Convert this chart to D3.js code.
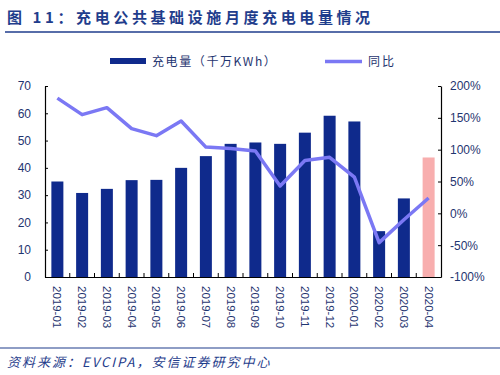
<!DOCTYPE html>
<html>
<meta charset="utf-8">
<style>
  body { margin: 0; background: #fff; }
  text { font-family: "Liberation Sans", Arial, sans-serif; }
  .cjk { font-family: "Noto Sans CJK SC", sans-serif; }
</style>
<body>
<script src="https://d3js.org/d3.v7.min.js"></script>
<script>
// data
var months = ["2019-01","2019-02","2019-03","2019-04","2019-05","2019-06","2019-07","2019-08",
              "2019-09","2019-10","2019-11","2019-12","2020-01","2020-02","2020-03","2020-04"];
var charge = [35, 30.8, 32.3, 35.5, 35.6, 40, 44.3, 48.8, 49.3, 48.8, 52.9, 59.1, 57, 16.8, 28.8, 43.8];
var yoy = [1.81, 1.55, 1.66, 1.33, 1.22, 1.45, 1.04, 1.02, 0.98, 0.43, 0.83, 0.88, 0.57, -0.46, -0.10, 0.24];
var leftTicks = [0, 10, 20, 30, 40, 50, 60, 70];
var rightTicks = [-1, -0.5, 0, 0.5, 1, 1.5, 2];

var navy = "#0f2a8c", pink = "#f8aeae", lineCol = "#7b78f4", txt = "#1f3570";

var svg = d3.select("body").append("svg")
    .attr("width", 500)
    .attr("height", 375);

// title
svg.append("text")
  .attr("class", "cjk")
  .attr("x", 7).attr("y", 23)
  .style("font-size", "15px").style("font-weight", "bold")
  .style("letter-spacing", "3.6px")
  .attr("fill", "#1f3d8c")
  .text("图 11：充电公共基础设施月度充电电量情况");
svg.append("line")
  .attr("x1", 5).attr("x2", 500).attr("y1", 32).attr("y2", 32)
  .attr("stroke", "#1f3d8c").attr("stroke-width", 1.5);

// scales
var xb = d3.scaleBand().domain(months).range([45, 441]);
var yL = d3.scaleLinear().domain([0, 70]).range([277, 86]);
var yR = d3.scaleLinear().domain([-1, 2]).range([277, 86]);

// bars
svg.selectAll("rect.bar")
  .data(charge)
  .enter()
  .append("rect")
  .attr("class", "bar")
  .attr("x", function(d, i) { return xb(months[i]) + xb.bandwidth() / 2 - 6; })
  .attr("width", 12)
  .attr("y", function(d) { return yL(d); })
  .attr("height", function(d) { return yL(0) - yL(d); })
  .attr("fill", function(d, i) { return i == months.length - 1 ? pink : navy; });

// line
var line = d3.line()
  .x(function(d, i) { return xb(months[i]) + xb.bandwidth() / 2; })
  .y(function(d) { return yR(d); });
svg.append("path")
  .datum(yoy)
  .attr("d", line)
  .attr("fill", "none")
  .attr("stroke", lineCol)
  .attr("stroke-width", 3.5)
  .attr("stroke-linejoin", "round");

// left axis
var leftAxis = d3.axisLeft(yL).tickValues(leftTicks).tickSizeInner(-3).tickSizeOuter(0).tickPadding(14);
var gl = svg.append("g").attr("transform", "translate(45,0)").call(leftAxis);
// right axis
var rightAxis = d3.axisRight(yR).tickValues(rightTicks).tickSizeInner(-3).tickSizeOuter(0).tickPadding(9)
  .tickFormat(function(d) { return Math.round(d * 100) + "%"; });
var gr = svg.append("g").attr("transform", "translate(441,0)").call(rightAxis);
// bottom axis
var xAxis = d3.axisBottom(xb).tickSize(0).tickPadding(10);
var gx = svg.append("g").attr("transform", "translate(0,277)").call(xAxis);
gx.selectAll("text")
  .attr("transform", "rotate(90)")
  .attr("x", 9).attr("y", 0).attr("dy", "0.35em")
  .style("text-anchor", "start");
// category boundary ticks
svg.selectAll("line.sep")
  .data(months.slice(1))
  .enter()
  .append("line")
  .attr("x1", function(d) { return xb(d); })
  .attr("x2", function(d) { return xb(d); })
  .attr("y1", 277).attr("y2", 273)
  .attr("stroke", "#000");

[gl, gr, gx].forEach(function(g) {
  g.select(".domain").attr("stroke", "#000").attr("stroke-width", 1.2);
  g.selectAll(".tick line").attr("stroke", "#000");
  g.selectAll("text").attr("fill", txt).style("font-size", "12px")
    .style("font-family", "'Liberation Sans', Arial, sans-serif");
});
gx.selectAll("text").style("font-size", "11.5px");

// legend
svg.append("rect").attr("x", 110).attr("y", 58).attr("width", 36).attr("height", 6).attr("fill", navy);
svg.append("text").attr("class", "cjk").attr("x", 152).attr("y", 66)
  .style("font-size", "12px").attr("fill", txt).style("letter-spacing", "1.6px")
  .text("充电量（千万KWh）");
svg.append("line").attr("x1", 325).attr("x2", 362).attr("y1", 61.5).attr("y2", 61.5)
  .attr("stroke", lineCol).attr("stroke-width", 3.5);
svg.append("text").attr("class", "cjk").attr("x", 368).attr("y", 66)
  .style("font-size", "12px").attr("fill", txt).style("letter-spacing", "2px")
  .text("同比");

// footer
svg.append("line")
  .attr("x1", 0).attr("x2", 500).attr("y1", 348).attr("y2", 348)
  .attr("stroke", "#1f3d8c").attr("stroke-width", 1.2);
svg.append("text").attr("class", "cjk")
  .attr("x", 7).attr("y", 367)
  .style("font-size", "13px").style("font-style", "italic")
  .style("letter-spacing", "2px")
  .attr("fill", "#1f3d8c")
  .text("资料来源：EVCIPA，安信证券研究中心");
</script>
</body>
</html>
